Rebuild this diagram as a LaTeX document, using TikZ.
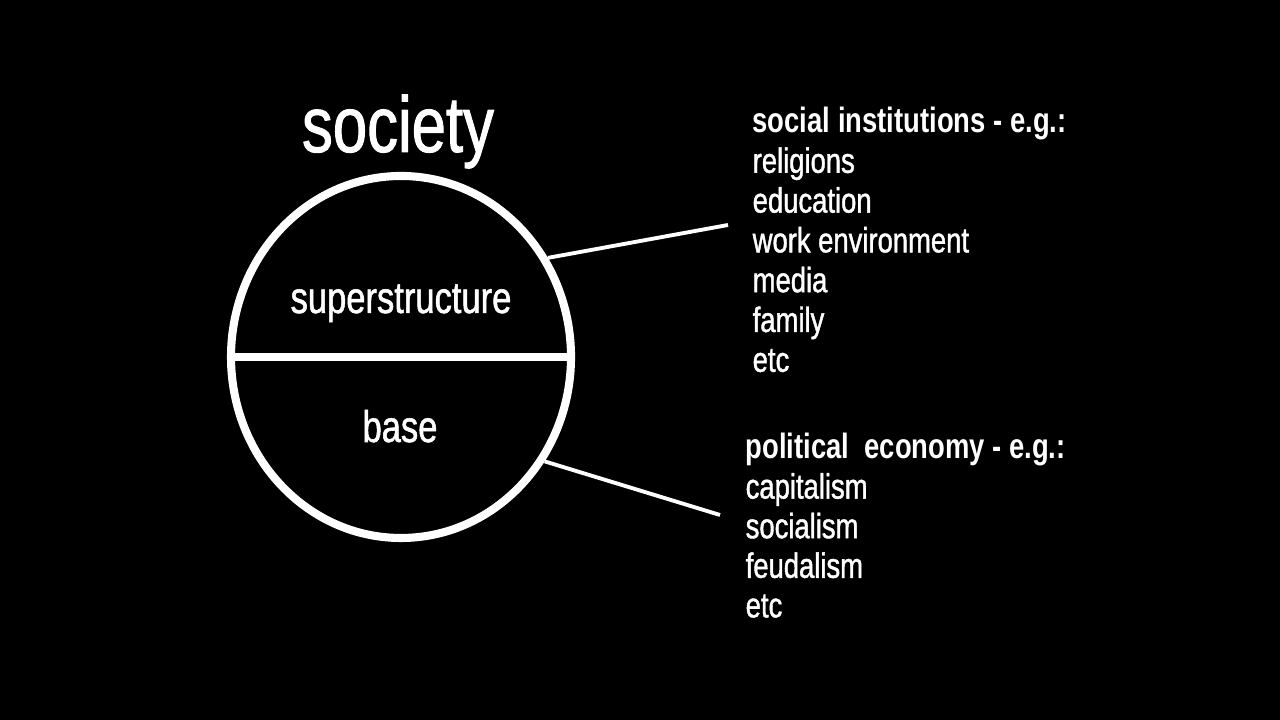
\documentclass[tikz,border=0pt]{standalone}
\usepackage{fontspec}
\setmainfont{Liberation Sans}[FakeStretch=0.78]
\newfontfamily\heavyfont{Liberation Sans}[FakeStretch=0.78, FakeBold=1.2]
\usepackage{tikz}
\usetikzlibrary{shapes.geometric, positioning}

\begin{document}
\begin{tikzpicture}[
        whole/.style={ellipse, draw=white, line width=2.3pt, minimum width=3.40cm, minimum height=3.62cm, inner sep=0pt},
        title/.style={text=white, inner sep=0pt, anchor=base, font=\heavyfont\fontsize{22.5}{27}\selectfont},
        part/.style={text=white, inner sep=0pt, anchor=base, font=\heavyfont\fontsize{12.6}{15}\selectfont},
        head/.style={text=white, inner sep=0pt, anchor=base west, font=\fontsize{10}{12}\selectfont\bfseries},
        item/.style={text=white, inner sep=0pt, anchor=base west, font=\heavyfont\fontsize{10}{12}\selectfont},
        link/.style={draw=white, line width=1.1pt}
    ]
        \fill[black] (0,0) rectangle (12.8,7.2);
        \useasboundingbox (0,0) rectangle (12.8,7.2);

        % the circle and its two halves
        \node[whole] (soc) at (4.01,3.63) {};
        \draw[white, line width=2.3pt] (soc.west) -- (soc.east);
        \node[title] (society) at (3.98,5.68) {society};
        \node[part] (super) at (4.01,4.07) {superstructure};
        \node[part] (base) at (4.00,2.78) {base};

        % upper list
        \node[head] (inst) at (7.52,5.87) {social institutions - e.g.:};
        \foreach \t [count=\i] in {religions, education, work environment, media, family, etc}
            \node[item] (inst\i) at (7.52,{5.87-0.398*\i}) {\t};

        % lower list
        \node[head] (econ) at (7.45,2.61) {political~ economy - e.g.:};
        \foreach \t [count=\i] in {capitalism, socialism, feudalism, etc}
            \node[item] (econ\i) at (7.45,{2.61-0.396*\i}) {\t};

        \coordinate (instend) at (7.28,4.95);
        \coordinate (econend) at (7.20,2.05);
        \draw[link] (soc.34) -- (instend);
        \draw[link] (soc.-36.6) -- (econend);
    \end{tikzpicture}
\end{document}
